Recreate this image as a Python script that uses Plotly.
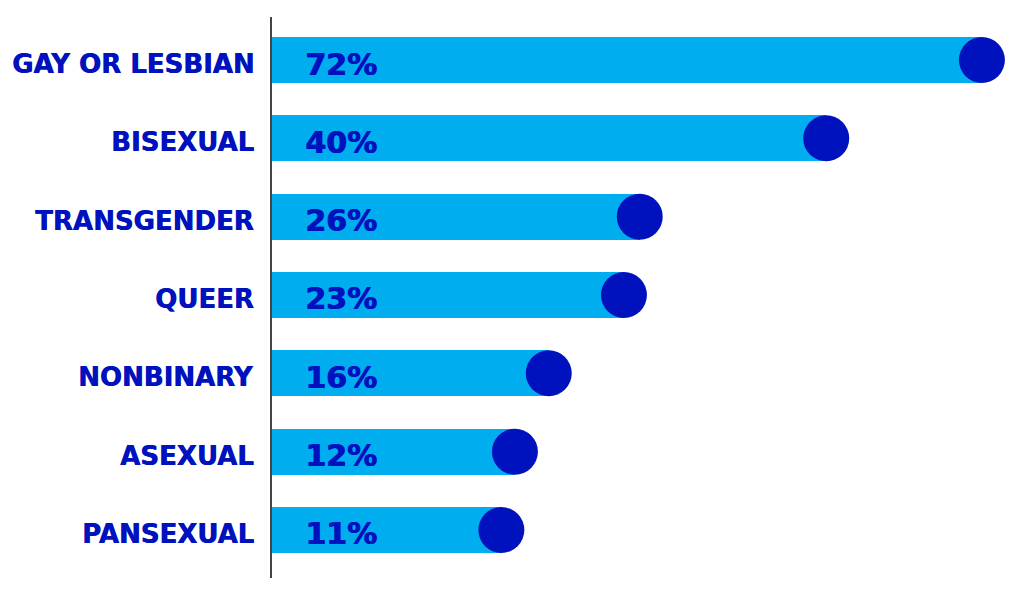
import plotly.graph_objects as go

categories = ["GAY OR LESBIAN", "BISEXUAL", "TRANSGENDER", "QUEER", "NONBINARY", "ASEXUAL", "PANSEXUAL"]
pct_labels = ["72%", "40%", "26%", "23%", "16%", "12%", "11%"]
# bar lengths as drawn in the picture, on a 0-100 scale of the plotting width
bar_lengths = [94.4, 73.7, 48.9, 46.8, 36.8, 32.3, 30.5]

BAR = "#00AEEF"
DOT = "#0012BE"
TXT = "#0012BE"
FONT = "DejaVu Sans"

fig = go.Figure()
fig.add_trace(go.Bar(
    x=bar_lengths, y=categories, orientation="h",
    marker=dict(color=BAR, line=dict(width=0)),
    width=0.59, hoverinfo="skip", showlegend=False,
))
fig.add_trace(go.Scatter(
    x=bar_lengths, y=categories, mode="markers",
    marker=dict(color=DOT, size=46, line=dict(width=0)),
    hoverinfo="skip", showlegend=False,
))
for cat, lab in zip(categories, pct_labels):
    fig.add_annotation(
        x=0, y=cat, xref="x", yref="y", text=lab, showarrow=False,
        xanchor="left", yanchor="middle", xshift=31, yshift=-4,
        font=dict(family=FONT, size=30, color=TXT, weight="bold",
                  shadow="1px 0 0 #0012BE"),
    )
    fig.add_annotation(
        x=0, y=cat, xref="x", yref="y", text=cat, showarrow=False,
        xanchor="right", yanchor="middle", xshift=-16, yshift=-4,
        font=dict(family=FONT, size=26, color=TXT, weight="bold",
                  shadow="0.6px 0 0 #0012BE"),
    )

fig.update_layout(
    width=1024, height=600,
    margin=dict(l=272, r=0, t=17, b=22),
    paper_bgcolor="white", plot_bgcolor="white",
    bargap=0,
    xaxis=dict(range=[0, 100], visible=False, fixedrange=True),
    yaxis=dict(
        type="category", range=[6.613, -0.549],
        showline=True, linecolor="#444444", linewidth=2,
        showgrid=False, zeroline=False, ticks="",
        showticklabels=False,
    ),
)

fig.write_html("out.html")
